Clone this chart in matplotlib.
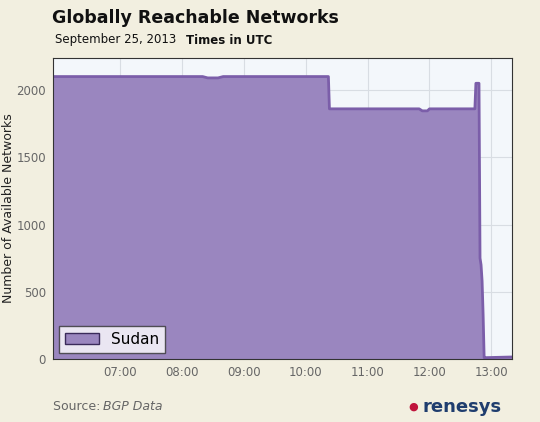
import matplotlib
matplotlib.use("Agg")
import matplotlib.pyplot as plt
import matplotlib.dates as mdates
from matplotlib.patches import Patch
import pandas as pd

times = ["05:55","08:20","08:25","08:35","08:40","10:22","10:23","11:50","11:53","11:58","12:00","12:44","12:45","12:48","12:49","12:50","12:51","12:52","12:53","12:54","13:20"]
values = [2100,2100,2090,2090,2100,2100,1860,1860,1845,1845,1860,1860,2050,2050,750,700,580,330,10,10,15]
xticks = ["07:00","08:00","09:00","10:00","11:00","12:00","13:00"]
yticks = [0,500,1000,1500,2000]

t = pd.to_datetime(["2013-09-25 " + s for s in times])
fig = plt.figure(figsize=(5.4,4.22), dpi=100, facecolor="#f2efe0")
ax = fig.add_axes([53/540, 1-359/422, 459/540, 301/422])
ax.set_facecolor("#f3f7fb")
ax.fill_between(t, values, color="#9a86bf", linewidth=0)
ax.plot(t, values, color="#7b5ea9", lw=2)
ax.set_xlim(pd.Timestamp("2013-09-25 05:55"), pd.Timestamp("2013-09-25 13:20"))
ax.set_ylim(0, 2238)
ax.set_xticks(pd.to_datetime(["2013-09-25 " + s for s in xticks]))
ax.xaxis.set_major_formatter(mdates.DateFormatter("%H:%M"))
ax.set_yticks(yticks)
ax.grid(color="#d8dde3", lw=0.8)
ax.set_axisbelow(True)
ax.tick_params(colors="#666666", labelsize=8.5, length=0, pad=5)
for s in ax.spines.values():
    s.set_color("#333333")
ax.set_ylabel("Number of Available Networks", fontsize=9, color="#222222", labelpad=4)
ax.yaxis.set_label_coords(-15/459*1.0 - 0.0 - (53-15-15)/459, 0.5)
leg = ax.legend(handles=[Patch(facecolor="#9a86bf", edgecolor="#3a2a5a", lw=1, label="Sudan")],
                loc="lower left", fontsize=11, frameon=True, fancybox=False,
                edgecolor="#333333", handlelength=2.2, borderaxespad=0.4)
fig.text(52/540, 1-18/422, "Globally Reachable Networks", fontsize=12.5, weight="bold", va="center", color="#111111")
fig.text(55/540, 1-40/422, "September 25, 2013", fontsize=8.5, va="center", color="#111111")
fig.text(186/540, 1-40/422, "Times in UTC", fontsize=8.5, weight="bold", va="center", color="#111111")
fig.text(53/540, 1-407/422, "Source: ", fontsize=9, va="center", color="#666666")
fig.text(103/540, 1-407/422, "BGP Data", fontsize=9, style="italic", va="center", color="#666666")
fig.text(408/540, 1-407/422, "●", fontsize=8, va="center", color="#c0143c")
fig.text(422/540, 1-407/422, "renesys", fontsize=13, weight="bold", va="center", color="#1f3d6e")
fig.savefig("out.png", dpi=100, facecolor=fig.get_facecolor())
